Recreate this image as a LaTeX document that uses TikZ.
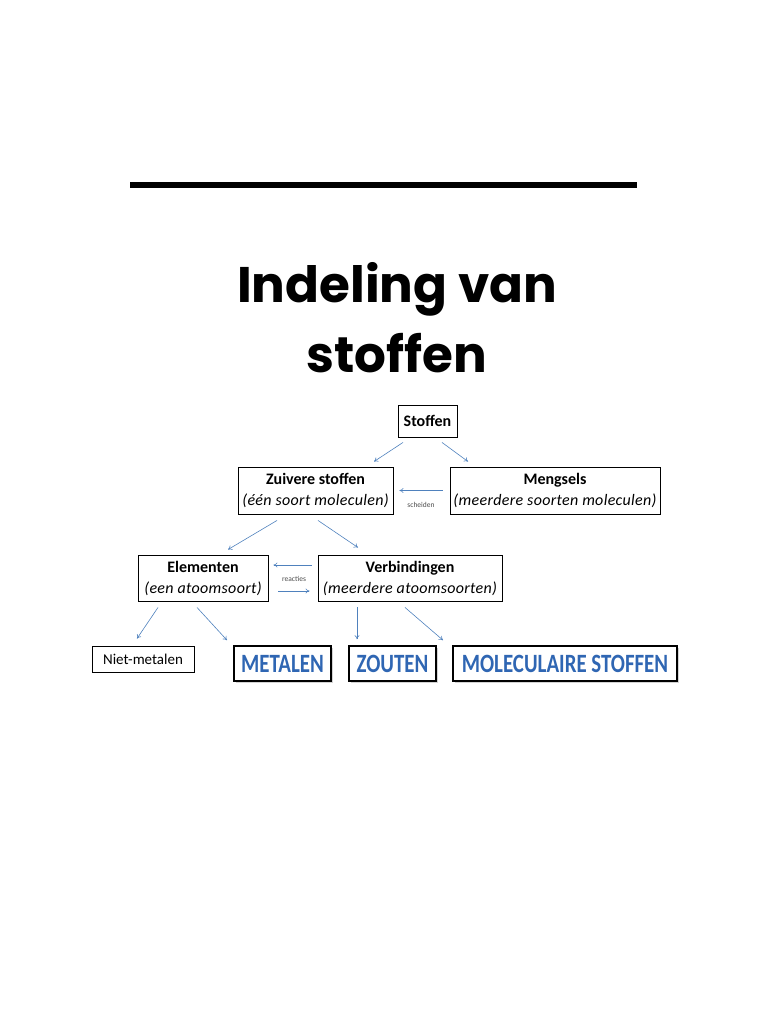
\documentclass[tikz,border=0pt]{standalone}
\usepackage{fontspec}
\setmainfont{Carlito}
\newfontfamily\titlefont{Poppins}
\usepackage{tikz}
\usetikzlibrary{arrows.meta, positioning, shadows}

\definecolor{arrowblue}{HTML}{4F81BD}
\definecolor{artblue}{HTML}{2F66B3}

\newcommand{\soort}[1]{{\itshape\addfontfeature{LetterSpace=2}#1}}

\begin{document}
\begin{tikzpicture}[x=1pt, y=-1pt,
    box/.style={draw, line width=0.9pt, inner sep=0pt, align=center,
      font=\fontsize{16}{21}\selectfont},
    artbox/.style={draw, line width=1.6pt, inner sep=0pt, fill=white,
      drop shadow={shadow xshift=1.5pt, shadow yshift=-1.5pt, opacity=0.35},
      text=artblue, font=\bfseries\fontsize{22}{22}\selectfont},
    lbl/.style={font=\fontsize{7.5}{8}\selectfont, text=black!70},
    arr/.style={draw=arrowblue, line width=0.6pt, -{To[length=4pt, width=5pt]}}]
  \useasboundingbox (0,0) rectangle (768,1024);

  % title
  \draw[line width=6pt] (130,185) -- (637,185);
  \node[font=\titlefont\bfseries\fontsize{50}{70}\selectfont, align=center]
    (title) at (397,318) {Indeling van\\stoffen};

  % boxes
  \node[box, minimum width=59pt, minimum height=32pt] (stoffen) at (427.5,421) {\textbf{Stoffen}};
  \node[box, minimum width=155pt, minimum height=47pt] (zuivere) at (315.5,490.5)
    {\textbf{Zuivere stoffen}\\\soort{(één soort moleculen)}};
  \node[box, minimum width=210pt, minimum height=47pt] (mengsels) at (555,490.5)
    {\textbf{Mengsels}\\\soort{(meerdere soorten moleculen)}};
  \node[box, minimum width=130pt, minimum height=46pt] (elementen) at (203,578)
    {\textbf{Elementen}\\\soort{(een atoomsoort)}};
  \node[box, minimum width=184pt, minimum height=46pt] (verbindingen) at (410,578)
    {\textbf{Verbindingen}\\\soort{(meerdere atoomsoorten)}};
  \node[box, minimum width=102pt, minimum height=26pt, font=\fontsize{15}{18}\selectfont]
    (niet) at (143,659) {Niet-metalen};
  \node[artbox, minimum width=97pt, minimum height=35pt] (metalen) at (282.5,663.5)
    {\scalebox{0.95}[1.2]{METALEN}};
  \node[artbox, minimum width=87pt, minimum height=35pt] (zouten) at (392.5,663.5)
    {\scalebox{0.95}[1.2]{ZOUTEN}};
  \node[artbox, minimum width=224pt, minimum height=35pt] (molec) at (565,663.5)
    {\scalebox{0.95}[1.2]{MOLECULAIRE STOFFEN}};

  % arrows
  \draw[arr] ([xshift=-24.5pt,yshift=-5pt]stoffen.south) -- ([xshift=58.5pt,yshift=5pt]zuivere.north);
  \draw[arr] ([xshift=14.5pt,yshift=-5pt]stoffen.south) -- ([xshift=-87pt,yshift=5pt]mengsels.north);
  \draw[arr] ([xshift=-7pt]mengsels.west) -- ([xshift=6pt]zuivere.east)
    node[lbl, midway, below=8pt] (scheiden) {scheiden};
  \draw[arr] ([xshift=-38.5pt,yshift=-6pt]zuivere.south) -- ([xshift=25pt,yshift=5pt]elementen.north);
  \draw[arr] ([xshift=2.5pt,yshift=-6pt]zuivere.south) -- ([xshift=-52pt,yshift=7pt]verbindingen.north);
  \draw[arr] ([xshift=-6pt,yshift=13pt]verbindingen.west) -- ([xshift=5pt,yshift=13pt]elementen.east);
  \draw[arr] ([xshift=10pt,yshift=-13pt]elementen.east) -- ([xshift=-8pt,yshift=-13pt]verbindingen.west)
    node[lbl, midway, above=6pt] (reacties) {reacties};
  \draw[arr] ([xshift=-45pt,yshift=-6pt]elementen.south) -- ([xshift=-6pt,yshift=7pt]niet.north);
  \draw[arr] ([xshift=-6pt,yshift=-6pt]elementen.south) -- ([xshift=-55.5pt,yshift=5pt]metalen.north);
  \draw[arr] ([xshift=-53pt,yshift=-6pt]verbindingen.south) -- ([xshift=-35.5pt,yshift=6pt]zouten.north);
  \draw[arr] ([xshift=-5pt,yshift=-6pt]verbindingen.south) -- ([xshift=-122pt,yshift=5pt]molec.north);
\end{tikzpicture}
\end{document}
